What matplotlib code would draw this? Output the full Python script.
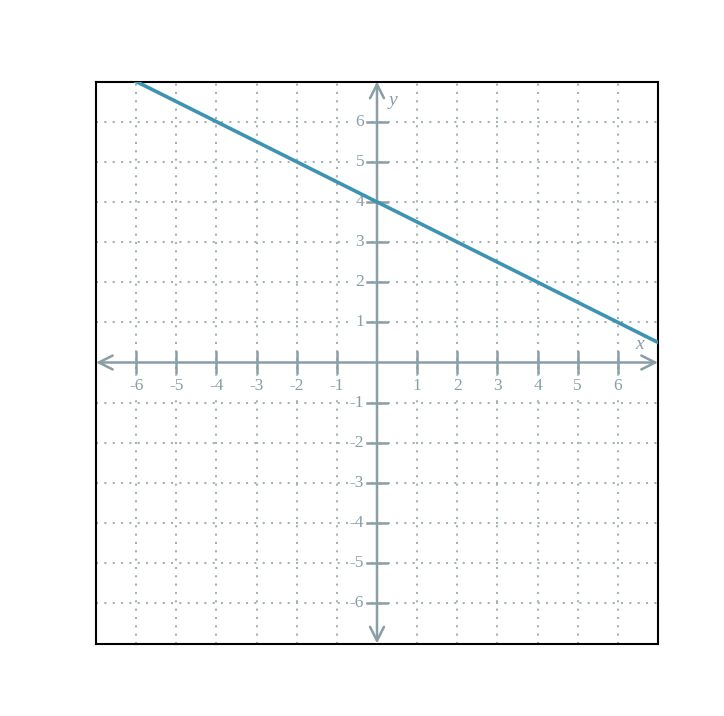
import matplotlib
matplotlib.use('Agg')
import matplotlib.pyplot as plt
import numpy as np

# line y = 4 - 0.5x
line_x = [-7, 7]
line_y = [7.5, 0.5]
ticks = [-6, -5, -4, -3, -2, -1, 1, 2, 3, 4, 5, 6]
lim = 7

axis_col = '#8a9ea6'
grid_col = '#a5b2b6'
line_col = '#3d94ae'
text_col = '#8a9ea6'

plt.rcParams['font.family'] = ['Liberation Serif', 'DejaVu Serif']

fig = plt.figure(figsize=(7.24, 7.16), dpi=100)
ax = fig.add_axes([96 / 724, 1 - 643.5 / 716, 562 / 724, 562 / 716])
ax.set_xlim(-lim, lim)
ax.set_ylim(-lim, lim)
ax.set_xticks([])
ax.set_yticks([])
for s in ax.spines.values():
    s.set_linewidth(1.5)
    s.set_color('black')

# dotted grid
for t in ticks:
    ax.axvline(t, color=grid_col, lw=1.5, ls=(0, (1, 3)), zorder=1)
    ax.axhline(t, color=grid_col, lw=1.5, ls=(0, (1, 3)), zorder=1)

# main axes with open arrow heads
arrow = dict(arrowstyle='<->,head_length=1.0,head_width=0.5', color=axis_col,
             lw=1.8, shrinkA=0, shrinkB=0)
ax.annotate('', xy=(lim, 0), xytext=(-lim, 0), arrowprops=arrow, zorder=3)
ax.annotate('', xy=(0, lim), xytext=(0, -lim), arrowprops=arrow, zorder=3)

# ticks and labels
box = dict(facecolor='white', edgecolor='none', pad=1.0)
for t in ticks:
    ax.plot([t, t], [-0.25, 0.25], color=axis_col, lw=1.8, zorder=3)
    ax.plot([-0.25, 0.25], [t, t], color=axis_col, lw=1.8, zorder=3)
    ax.text(t, -0.58, str(t), color=text_col, fontsize=12.5, ha='center', va='center',
            bbox=box, zorder=4)
    ax.text(-0.32, t, str(t), color=text_col, fontsize=12.5, ha='right', va='center',
            bbox=box, zorder=4)

ax.text(6.55, 0.45, 'x', color=text_col, fontsize=14, style='italic',
        ha='center', va='center')
ax.text(0.4, 6.53, 'y', color=text_col, fontsize=14, style='italic',
        ha='center', va='center')

ax.plot(line_x, line_y, color=line_col, lw=2.6, zorder=5, clip_on=True)

fig.savefig('out.png', dpi=100)
